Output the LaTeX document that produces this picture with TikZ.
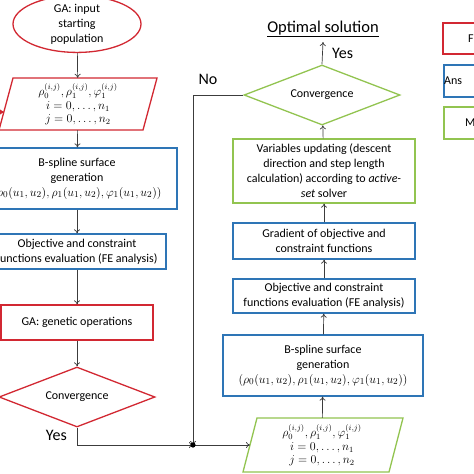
\documentclass[tikz,border=0pt]{standalone}
\usepackage{fontspec}
\setmainfont{Carlito}
\usetikzlibrary{shapes.geometric,arrows.meta}
\definecolor{cred}{RGB}{210,40,50}
\definecolor{cblue}{RGB}{46,117,182}
\definecolor{cgreen}{RGB}{146,196,80}
\definecolor{carrow}{RGB}{60,60,60}
\newcommand{\bspl}{{\fontsize{13}{16}\selectfont$\bigl(\rho_0(u_1,u_2),\rho_1(u_1,u_2),\varphi_1(u_1,u_2)\bigr)$}}
\newcommand{\vars}{$\rho_0^{(i,j)},\rho_1^{(i,j)},\varphi_1^{(i,j)}$\\[-1pt]$i=0,\dots,n_1$\\[-2pt]$j=0,\dots,n_2$}
\tikzset{
  txt/.style={font=\fontsize{12}{15}\selectfont, align=center, inner sep=0pt},
  redbox/.style={txt, draw=cred, line width=1.3pt, rectangle},
  bluebox/.style={txt, draw=cblue, line width=1.3pt, rectangle},
  greenbox/.style={txt, draw=cgreen, line width=1.3pt, rectangle},
  dia/.style={txt, diamond, aspect=2.6, minimum width=156pt, minimum height=60pt, line width=1.3pt},
  conn/.style={draw=carrow, line width=0.7pt, -{To[length=4pt,width=6pt]}},
  lbl/.style={font=\fontsize{16}{18}\selectfont, inner sep=0pt}
}
\begin{document}
\begin{tikzpicture}[x=1pt,y=-1pt]
\useasboundingbox (0,0) rectangle (474,474);
\clip (0,0) rectangle (474,474);
\fill[white] (0,0) rectangle (474,474);

% ---------- left column (GA) ----------
\node[txt, ellipse, draw=cred, line width=1.3pt, minimum width=128pt, minimum height=56pt] (ga) at (77,24) {GA: input\\starting\\population};

\node[txt, minimum width=140pt, minimum height=52pt] (p1) at (78,104) {\vars};
\draw[cred, line width=1.3pt] (13,78) -- (157,78) -- (143,130) -- (-1,130) -- cycle;

\node[bluebox, minimum width=200pt, minimum height=61pt] (b1) at (77,178.5)
  {B-spline surface\\generation\\\bspl};

\node[bluebox, minimum width=178pt, minimum height=35pt] (b2) at (77,251.5)
  {Objective and constraint\\functions evaluation (FE analysis)};

\node[redbox, minimum width=152pt, minimum height=35pt] (g2) at (77,322.5)
  {GA: genetic operations};

\node[dia, draw=cred] (d1) at (77,397) {Convergence};

\coordinate (rin) at (-20,112);
\draw[cred, line width=1.3pt, -{Triangle[length=5pt,width=6pt]}] (rin) -- (4,112);

\draw[conn] (ga) -- (p1);
\draw[conn] (p1) -- (b1);
\draw[conn] (b1) -- (b2);
\draw[conn] (b2) -- (g2);
\draw[conn] (g2) -- (d1);

% ---------- junction ----------
\coordinate (J) at (193,445);
\coordinate (c1) at (77,445);
\coordinate (c2) at (193,95);
\draw[conn] (d1.south) -- (c1) -- (J);
\node[lbl, anchor=east] (yes1) at (67,435) {Yes};

% ---------- right column ----------
\node[txt, minimum width=146pt, minimum height=54pt] (p2) at (322,445) {\vars};
\draw[cgreen, line width=1.3pt] (257,418) -- (403,418) -- (389,472) -- (243,472) -- cycle;
\coordinate (p2w) at (250,445);

\node[bluebox, minimum width=200pt, minimum height=61pt] (b3) at (323,365.5)
  {B-spline surface\\generation\\\bspl};

\node[bluebox, minimum width=182pt, minimum height=34pt] (b4) at (324,296)
  {Objective and constraint\\functions evaluation (FE analysis)};

\node[bluebox, minimum width=182pt, minimum height=36pt] (b5) at (324,241)
  {Gradient of objective and\\constraint functions};

\node[greenbox, minimum width=182pt, minimum height=64pt] (gb) at (324,171)
  {Variables updating (descent\\direction and step length\\calculation) according to \textit{active-}\\\textit{set} solver};

\node[dia, draw=cgreen] (d2) at (322,95) {Convergence};

\node[lbl, font=\fontsize{16.5}{18}\selectfont] (opt) at (323,29) {\underline{Optimal solution}};
\node[lbl, anchor=west] (yes2) at (332,53) {Yes};
\node[lbl] (no) at (208,79) {No};

\draw[conn] (p2) -- (b3);
\draw[conn] (b3) -- (b4);
\draw[conn] (b4) -- (b5);
\draw[conn] (b5) -- (gb);
\draw[conn] (gb) -- (d2);
\draw[conn] (d2.north) -- (323,42);

\draw[conn] (d2.west) -- (c2) -- (J);
\draw[conn] (J) -- (p2w);
\fill[black] (J) circle (2.6pt);

% ---------- legend ----------
\draw[cred, line width=1.3pt] (490,23) -- (443,23) -- (443,54) -- (490,54);
\draw[cblue, line width=1.3pt] (490,65) -- (444,65) -- (444,97) -- (490,97);
\draw[cgreen, line width=1.3pt] (490,107) -- (444,107) -- (444,139) -- (490,139);
\node[txt, anchor=west] (l1) at (468,38.5) {F};
\node[txt, anchor=west] (l2) at (444,81) {Ans};
\node[txt, anchor=west] (l3) at (465,123) {M};
\end{tikzpicture}
\end{document}
